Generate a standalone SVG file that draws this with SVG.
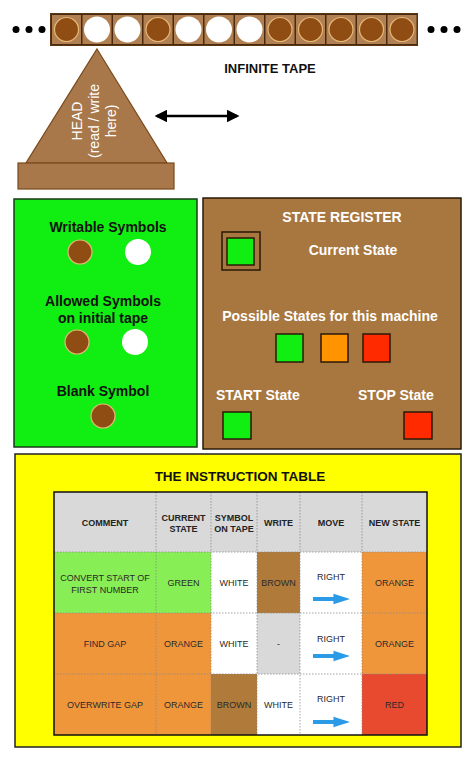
<svg xmlns="http://www.w3.org/2000/svg" width="474" height="761" viewBox="0 0 474 761">
<defs>
<style>
.t{font-family:"Liberation Sans",Arial,sans-serif}
.b{font-weight:bold}
.cell{fill:#b08052;stroke:#4a2a0e;stroke-width:1}
.bc{fill:#8f4d14;stroke:#e6b878;stroke-width:1.2}
.wc{fill:#ffffff}
.dot{fill:#000}
.gl{font-family:"Liberation Sans",Arial,sans-serif;font-weight:bold;font-size:14px;fill:#111;text-anchor:middle}
.wl{font-family:"Liberation Sans",Arial,sans-serif;font-weight:bold;font-size:14px;fill:#fff}
.sq{stroke:#2a1a08;stroke-width:1.5}
.th{font-family:"Liberation Sans",Arial,sans-serif;font-weight:bold;font-size:9px;fill:#222;text-anchor:middle}
.td{font-family:"Liberation Sans",Arial,sans-serif;font-size:9px;fill:#2a2a2a;text-anchor:middle}
.sep{stroke:#8a8a8a;stroke-width:0.8;stroke-dasharray:1.5 1.5;fill:none}
.ar{fill:#2b9be8}
</style>
<marker id="ah" viewBox="0 0 10 10" refX="8" refY="5" markerWidth="5" markerHeight="5" orient="auto-start-reverse">
<path d="M0,0 L10,5 L0,10 Z" fill="#000"/>
</marker>
<symbol id="rarrow" viewBox="0 0 38 12" overflow="visible">
<path d="M0,4 L21,4 L21,0.5 L38,6 L21,11.5 L21,8 L0,8 Z"/>
</symbol>
</defs>
<rect width="474" height="761" fill="#fff"/>

<g id="tape">
<rect x="50" y="13" width="368" height="33" fill="#5a3612"/>
<g>
<rect class="cell" x="51.5" y="14.5" width="30" height="30"/>
<rect class="cell" x="82" y="14.5" width="30" height="30"/>
<rect class="cell" x="112.5" y="14.5" width="30" height="30"/>
<rect class="cell" x="143" y="14.5" width="30" height="30"/>
<rect class="cell" x="173.5" y="14.5" width="30" height="30"/>
<rect class="cell" x="204" y="14.5" width="30" height="30"/>
<rect class="cell" x="234.5" y="14.5" width="30" height="30"/>
<rect class="cell" x="265" y="14.5" width="30" height="30"/>
<rect class="cell" x="295.5" y="14.5" width="30" height="30"/>
<rect class="cell" x="326" y="14.5" width="30" height="30"/>
<rect class="cell" x="356.5" y="14.5" width="30" height="30"/>
<rect class="cell" x="387" y="14.5" width="30" height="30"/>
</g>
<circle class="bc" cx="66.5" cy="29.5" r="12"/>
<circle class="wc" cx="97" cy="29.5" r="13"/>
<circle class="wc" cx="127.5" cy="29.5" r="13"/>
<circle class="bc" cx="158" cy="29.5" r="12"/>
<circle class="wc" cx="188.5" cy="29.5" r="13"/>
<circle class="wc" cx="219" cy="29.5" r="13"/>
<circle class="wc" cx="249.5" cy="29.5" r="13"/>
<circle class="bc" cx="280" cy="29.5" r="12"/>
<circle class="bc" cx="310.5" cy="29.5" r="12"/>
<circle class="bc" cx="341" cy="29.5" r="12"/>
<circle class="bc" cx="371.5" cy="29.5" r="12"/>
<circle class="bc" cx="402" cy="29.5" r="12"/>
<circle class="dot" cx="16" cy="29.5" r="3.5"/>
<circle class="dot" cx="29" cy="29.5" r="3.5"/>
<circle class="dot" cx="42" cy="29.5" r="3.5"/>
<circle class="dot" cx="431" cy="29.5" r="3.5"/>
<circle class="dot" cx="444" cy="29.5" r="3.5"/>
<circle class="dot" cx="457" cy="29.5" r="3.5"/>
<text class="t b" x="270" y="73" font-size="13" text-anchor="middle" fill="#111">INFINITE TAPE</text>
</g>

<g id="head">
<path d="M97,49 L167,163 L26,163 Z" fill="#a8774a" stroke="#7a4a1c" stroke-width="1.2"/>
<rect x="18" y="163" width="156" height="26" fill="#a8774a" stroke="#7a4a1c" stroke-width="1.2"/>
<g transform="translate(95,121) rotate(-90)">
<text class="t" x="0" y="-13" font-size="14" text-anchor="middle" fill="#fff">HEAD</text>
<text class="t" x="0" y="4" font-size="14" text-anchor="middle" fill="#fff">(read / write</text>
<text class="t" x="0" y="21" font-size="14" text-anchor="middle" fill="#fff">here)</text>
</g>
</g>

<g id="connectors">
<line x1="157" y1="116" x2="237" y2="116" stroke="#000" stroke-width="2.5" marker-start="url(#ah)" marker-end="url(#ah)"/>
</g>

<g id="symbols-panel">
<rect x="14" y="199" width="183" height="248" fill="#11ee11" stroke="#1a3a1a" stroke-width="1.5"/>
<text class="gl" x="108" y="232">Writable Symbols</text>
<circle class="bc" cx="80" cy="252" r="12"/>
<circle class="wc" cx="138" cy="252" r="13"/>
<text class="gl" x="103" y="306">Allowed Symbols</text>
<text class="gl" x="103" y="323">on initial tape</text>
<circle class="bc" cx="77" cy="342" r="12"/>
<circle class="wc" cx="135" cy="342" r="13"/>
<text class="gl" x="103" y="396">Blank Symbol</text>
<circle class="bc" cx="103" cy="416" r="12"/>
</g>

<g id="state-register">
<rect x="203" y="198" width="258" height="251" fill="#a8773f" stroke="#2a1a08" stroke-width="1.5"/>
<text class="wl" x="342" y="222" text-anchor="middle">STATE REGISTER</text>
<rect x="222" y="232" width="38" height="38" fill="#a8773f" stroke="#2a1a08" stroke-width="1.5"/>
<rect class="sq" x="227" y="238" width="27" height="27" fill="#11ee11"/>
<text class="wl" x="353" y="255" text-anchor="middle">Current State</text>
<text class="wl" x="330" y="321" text-anchor="middle" font-size="13.5">Possible States for this machine</text>
<rect class="sq" x="276" y="334" width="27" height="28" fill="#11ee11"/>
<rect class="sq" x="321" y="334" width="27" height="28" fill="#ff9400"/>
<rect class="sq" x="363" y="334" width="27" height="28" fill="#ff2a00"/>
<text class="wl" x="216" y="400">START State</text>
<text class="wl" x="358" y="400">STOP State</text>
<rect class="sq" x="223" y="412" width="28" height="27" fill="#11ee11"/>
<rect class="sq" x="404" y="412" width="28" height="27" fill="#ff2a00"/>
</g>

<g id="instruction-table">
<rect x="15" y="454" width="446" height="293" fill="#ffff00" stroke="#222" stroke-width="1.5"/>
<text class="t b" x="240" y="481" font-size="13.5" text-anchor="middle" fill="#111">THE INSTRUCTION TABLE</text>
<rect x="54" y="492" width="373" height="60" fill="#d9d9d9"/>
<rect x="54" y="552" width="102" height="61" fill="#88ee55"/>
<rect x="156" y="552" width="55" height="61" fill="#88ee55"/>
<rect x="211" y="552" width="46" height="61" fill="#fff"/>
<rect x="257" y="552" width="43" height="61" fill="#b07a3a"/>
<rect x="300" y="552" width="62" height="61" fill="#fff"/>
<rect x="362" y="552" width="65" height="61" fill="#f0963a"/>
<rect x="54" y="613" width="102" height="61" fill="#f0963a"/>
<rect x="156" y="613" width="55" height="61" fill="#f0963a"/>
<rect x="211" y="613" width="46" height="61" fill="#fff"/>
<rect x="257" y="613" width="43" height="61" fill="#d9d9d9"/>
<rect x="300" y="613" width="62" height="61" fill="#fff"/>
<rect x="362" y="613" width="65" height="61" fill="#f0963a"/>
<rect x="54" y="674" width="102" height="61" fill="#f0963a"/>
<rect x="156" y="674" width="55" height="61" fill="#f0963a"/>
<rect x="211" y="674" width="46" height="61" fill="#b07a3a"/>
<rect x="257" y="674" width="43" height="61" fill="#fff"/>
<rect x="300" y="674" width="62" height="61" fill="#fff"/>
<rect x="362" y="674" width="65" height="61" fill="#e84a30"/>
<path class="sep" d="M156,492V735 M211,492V735 M257,492V735 M300,492V735 M362,492V735 M54,552H427 M54,613H427 M54,674H427"/>
<rect x="54" y="492" width="373" height="243" fill="none" stroke="#111" stroke-width="1.5"/>
<text class="th" x="105" y="526">COMMENT</text>
<text class="th" x="183.5" y="521">CURRENT</text>
<text class="th" x="183.5" y="532">STATE</text>
<text class="th" x="234" y="521">SYMBOL</text>
<text class="th" x="234" y="532">ON TAPE</text>
<text class="th" x="278.5" y="526">WRITE</text>
<text class="th" x="331" y="526">MOVE</text>
<text class="th" x="394.5" y="526">NEW STATE</text>
<text class="td" x="105" y="581">CONVERT START OF</text>
<text class="td" x="105" y="593">FIRST NUMBER</text>
<text class="td" x="183.5" y="586">GREEN</text>
<text class="td" x="234" y="586">WHITE</text>
<text class="td" x="278.5" y="586">BROWN</text>
<text class="td" x="331" y="580">RIGHT</text>
<use href="#rarrow" class="ar" x="313" y="593" width="37" height="12"/>
<text class="td" x="394.5" y="586">ORANGE</text>
<text class="td" x="105" y="647">FIND GAP</text>
<text class="td" x="183.5" y="647">ORANGE</text>
<text class="td" x="234" y="647">WHITE</text>
<text class="td" x="278.5" y="647">-</text>
<text class="td" x="331" y="642">RIGHT</text>
<use href="#rarrow" class="ar" x="313" y="650" width="37" height="12"/>
<text class="td" x="394.5" y="647">ORANGE</text>
<text class="td" x="105" y="708">OVERWRITE GAP</text>
<text class="td" x="183.5" y="708">ORANGE</text>
<text class="td" x="234" y="708">BROWN</text>
<text class="td" x="278.5" y="708">WHITE</text>
<text class="td" x="331" y="702">RIGHT</text>
<use href="#rarrow" class="ar" x="313" y="716" width="37" height="12"/>
<text class="td" x="394.5" y="708">RED</text>
</g>
</svg>
